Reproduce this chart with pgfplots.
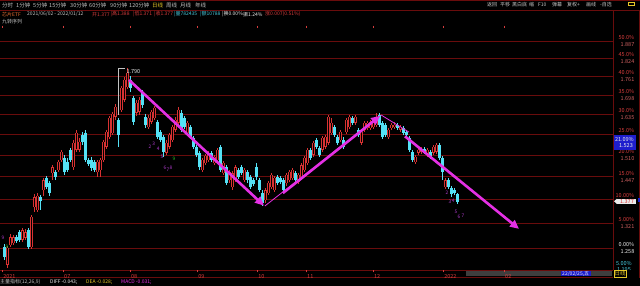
\documentclass[border=0pt]{standalone}
\usepackage{fontspec}
\setmainfont{Noto Sans CJK SC}
\usepackage{pgfplots}
\pgfplotsset{compat=1.18}
\usepackage{pgfplotstable}
\usetikzlibrary{arrows.meta}
\definecolor{upc}{RGB}{215,50,50}
\definecolor{dnc}{RGB}{84,225,245}
\definecolor{gridc}{RGB}{105,12,12}
\definecolor{lblr}{RGB}{215,60,60}
\definecolor{lblp}{RGB}{205,95,95}
\definecolor{mag}{RGB}{228,48,228}
\definecolor{tdp}{RGB}{175,60,205}
\definecolor{tdg}{RGB}{40,200,40}
\definecolor{txtg}{RGB}{195,195,195}
\definecolor{wt}{RGB}{235,235,235}
\definecolor{yel}{RGB}{230,200,40}
\definecolor{ora}{RGB}{230,110,50}
\definecolor{boxb}{RGB}{30,30,205}
\definecolor{barg}{RGB}{62,62,62}
\definecolor{cyt}{RGB}{70,200,220}

\pgfplotstableread{
i o h l c
0 1.260 1.268 1.229 1.236
1 1.217 1.263 1.210 1.258
2 1.265 1.293 1.260 1.285
3 1.270 1.290 1.265 1.285
4 1.285 1.290 1.270 1.275
5 1.298 1.303 1.273 1.278
6 1.278 1.308 1.273 1.303
7 1.283 1.306 1.278 1.298
8 1.303 1.308 1.256 1.260
9 1.260 1.342 1.256 1.337
10 1.363 1.398 1.350 1.390
11 1.355 1.401 1.350 1.393
12 1.390 1.396 1.355 1.379
13 1.409 1.443 1.393 1.437
14 1.443 1.449 1.412 1.417
15 1.429 1.434 1.393 1.401
16 1.457 1.480 1.437 1.474
17 1.460 1.466 1.437 1.446
18 1.466 1.495 1.460 1.489
19 1.495 1.525 1.489 1.519
20 1.501 1.510 1.452 1.460
21 1.489 1.501 1.460 1.466
22 1.525 1.531 1.489 1.495
23 1.474 1.555 1.466 1.546
24 1.525 1.586 1.519 1.576
25 1.525 1.561 1.519 1.549
26 1.570 1.579 1.540 1.549
27 1.576 1.586 1.489 1.495
28 1.495 1.501 1.477 1.483
29 1.495 1.504 1.463 1.472
30 1.489 1.495 1.460 1.466
31 1.460 1.495 1.446 1.489
32 1.466 1.501 1.446 1.495
33 1.495 1.555 1.489 1.549
34 1.534 1.586 1.528 1.579
35 1.564 1.630 1.558 1.623
36 1.576 1.643 1.570 1.636
37 1.627 1.669 1.617 1.659
38 1.617 1.623 1.534 1.570
39 1.649 1.729 1.643 1.722
40 1.682 1.759 1.675 1.749
41 1.725 1.790 1.718 1.773
42 1.749 1.763 1.708 1.722
43 1.688 1.695 1.601 1.611
44 1.640 1.682 1.630 1.672
45 1.643 1.692 1.633 1.682
46 1.705 1.715 1.656 1.665
47 1.627 1.636 1.592 1.601
48 1.595 1.633 1.589 1.623
49 1.611 1.649 1.604 1.643
50 1.623 1.662 1.617 1.656
51 1.611 1.617 1.558 1.564
52 1.579 1.586 1.549 1.555
53 1.564 1.570 1.504 1.519
54 1.516 1.555 1.510 1.546
55 1.534 1.576 1.528 1.570
56 1.555 1.601 1.549 1.595
57 1.586 1.627 1.579 1.617
58 1.608 1.659 1.601 1.649
59 1.640 1.649 1.579 1.586
60 1.623 1.630 1.589 1.595
61 1.576 1.614 1.570 1.608
62 1.595 1.601 1.558 1.564
63 1.561 1.567 1.528 1.534
64 1.534 1.540 1.504 1.510
65 1.516 1.522 1.466 1.474
66 1.466 1.501 1.460 1.495
67 1.486 1.513 1.480 1.507
68 1.495 1.522 1.489 1.516
69 1.516 1.522 1.489 1.495
70 1.486 1.510 1.480 1.504
71 1.495 1.531 1.489 1.525
72 1.534 1.540 1.460 1.466
73 1.457 1.492 1.452 1.486
74 1.474 1.480 1.423 1.429
75 1.437 1.466 1.429 1.460
76 1.417 1.463 1.409 1.457
77 1.437 1.480 1.432 1.474
78 1.466 1.472 1.440 1.446
79 1.474 1.480 1.452 1.457
80 1.437 1.472 1.432 1.466
81 1.460 1.466 1.429 1.437
82 1.446 1.452 1.412 1.417
83 1.437 1.443 1.420 1.426
84 1.474 1.486 1.437 1.446
85 1.437 1.443 1.404 1.409
86 1.401 1.409 1.366 1.374
87 1.382 1.415 1.374 1.409
88 1.401 1.434 1.396 1.429
89 1.417 1.457 1.412 1.452
90 1.409 1.449 1.404 1.443
91 1.446 1.452 1.423 1.429
92 1.443 1.449 1.426 1.432
93 1.437 1.443 1.404 1.409
94 1.429 1.457 1.420 1.452
95 1.437 1.466 1.432 1.460
96 1.443 1.472 1.437 1.466
97 1.457 1.463 1.432 1.437
98 1.432 1.457 1.426 1.452
99 1.446 1.486 1.440 1.480
100 1.466 1.507 1.460 1.501
101 1.486 1.531 1.480 1.525
102 1.525 1.531 1.495 1.501
103 1.510 1.552 1.504 1.546
104 1.555 1.561 1.528 1.534
105 1.531 1.537 1.504 1.510
106 1.525 1.567 1.519 1.561
107 1.534 1.570 1.528 1.564
108 1.546 1.633 1.540 1.627
109 1.576 1.623 1.570 1.608
110 1.595 1.601 1.564 1.570
111 1.564 1.570 1.540 1.546
112 1.555 1.586 1.549 1.579
113 1.555 1.564 1.528 1.534
114 1.579 1.623 1.573 1.617
115 1.595 1.633 1.589 1.627
116 1.623 1.630 1.601 1.608
117 1.608 1.633 1.601 1.627
118 1.586 1.592 1.564 1.570
119 1.546 1.586 1.540 1.579
120 1.586 1.614 1.579 1.608
121 1.592 1.614 1.586 1.608
122 1.592 1.617 1.586 1.611
123 1.595 1.623 1.589 1.617
124 1.601 1.640 1.595 1.627
125 1.633 1.640 1.595 1.601
126 1.608 1.614 1.558 1.564
127 1.601 1.608 1.564 1.570
128 1.564 1.592 1.558 1.586
129 1.592 1.608 1.586 1.601
130 1.595 1.611 1.589 1.601
131 1.601 1.608 1.586 1.592
132 1.586 1.601 1.579 1.595
133 1.592 1.598 1.570 1.576
134 1.579 1.586 1.564 1.570
135 1.561 1.567 1.519 1.525
136 1.519 1.525 1.489 1.495
137 1.489 1.510 1.483 1.504
138 1.516 1.531 1.510 1.525
139 1.519 1.534 1.513 1.528
140 1.528 1.534 1.513 1.519
141 1.510 1.531 1.504 1.525
142 1.519 1.525 1.498 1.504
143 1.516 1.540 1.510 1.534
144 1.519 1.546 1.513 1.540
145 1.540 1.546 1.495 1.501
146 1.501 1.507 1.437 1.460
147 1.417 1.443 1.412 1.437
148 1.437 1.443 1.412 1.417
149 1.415 1.420 1.390 1.398
150 1.409 1.415 1.396 1.401
151 1.398 1.402 1.371 1.377
}\kdata

\newcommand{\sm}{\fontsize{5.5}{7}\selectfont}
\newcommand{\xs}{\fontsize{5}{6}\selectfont}
\newcommand{\td}{\fontsize{4.8}{5}\selectfont}

\begin{document}
\begin{tikzpicture}[x=1pt,y=1pt]
\useasboundingbox (0,0) rectangle (640,286);
\fill[black] (0,0) rectangle (640,286);
% frame lines
\draw[gridc,line width=0.6pt] (0,285.7)--(640,285.7);
\draw[gridc,line width=0.6pt] (0,276)--(640,276);
\draw[gridc,line width=0.6pt] (613,276)--(613,8);
\draw[gridc,line width=0.6pt] (639,276)--(639,8);
\draw[gridc,line width=0.6pt] (0,9)--(613,9);
\draw[gridc,line width=0.6pt] (0,16)--(613,16);
\fill[barg] (465.7,9.6) rectangle (611.7,15.4);
% tab row
\begin{scope}[every node/.style={anchor=west,inner sep=0pt,font=\sm,text=txtg}]
\node at (2,281) {分时};
\node at (16,281) {1分钟};
\node at (33,281) {5分钟};
\node at (49,281) {15分钟};
\node at (70,281) {30分钟};
\node at (89,281) {60分钟};
\node at (110,281) {90分钟};
\node at (129,281) {120分钟};
\node[text=yel] at (152,281) {日线};
\node at (166,281) {周线};
\node at (180,281) {月线};
\node at (195,281) {年线};
\end{scope}
\begin{scope}[every node/.style={anchor=west,inner sep=0pt,font=\xs,text=txtg}]
\node at (487,281) {返回};
\node at (500,281) {平移};
\node at (512,281) {黑白底};
\node at (529,281) {缩};
\node at (538,281) {F10};
\node at (552,281) {弹幕};
\node at (567,281) {复权+};
\node at (586,281) {画线};
\node at (600,281) {-自选};
% info row
\node[text=ora] at (2,271.7) {芯片ETF};
\node at (27,271.7) {2021/06/02 - 2022/01/12};
\node[text=lblr] at (92,271.7) {开1.377};
\node[text=lblr] at (110.5,271.7) {|高1.388};
\node[text=lblr] at (133,271.7) {|低1.371};
\node[text=lblr] at (154,271.7) {|收1.377};
\node[text=cyt] at (174,271.7) {|量782435};
\node[text=cyt] at (200,271.7) {|额10788};
\node[text=wt] at (222,271.7) {|换0.00\%};
\node[text=wt] at (243,271.7) {振1.24\%};
\node[text=lblr] at (265,271.7) {涨0.007(0.51\%)};
\node at (2,264) {九转序列};
% bottom row
\node at (0,3.8) {主量指标(12,26,9)};
\node[text=wt] at (50,3.8) {DIFF -0.043;};
\node[text=yel] at (86,3.8) {DEA -0.028;};
\node[text=mag] at (121,3.8) {MACD -0.031;};
\end{scope}
\fill[yel] (628,280) rectangle (635,284);
\fill[black] (629,281) rectangle (634,283);

\begin{axis}[
  at={(0pt,16pt)}, anchor=south west, scale only axis,
  width=613pt, height=242pt,
  xmin=-1.5, xmax=202.833,
  ymode=log, ymin=1.2049, ymax=1.93654,
  clip=false,
  axis line style={draw=none},
  ytick={1.258,1.3209,1.3838,1.4467,1.5096,1.5725,1.6354,1.6983,1.7612,1.8241,1.887},
  yticklabels={
   {\textcolor{wt}{0.00\%}\\\textcolor{wt}{1.258}},
   {5.00\%\\\textcolor{lblp}{1.321}},
   {10.00\%\\\mbox{}},
   {15.0\%\\\textcolor{lblp}{1.447}},
   {20.0\%\\\textcolor{lblp}{1.510}},
   {25.0\%\\\mbox{}},
   {30.0\%\\\textcolor{lblp}{1.635}},
   {35.0\%\\\textcolor{lblp}{1.698}},
   {40.0\%\\\textcolor{lblp}{1.761}},
   {45.0\%\\\textcolor{lblp}{1.824}},
   {50.0\%\\\textcolor{lblp}{1.887}}},
  yticklabel pos=right,
  yticklabel style={anchor=east, align=right, xshift=19pt, inner sep=0pt, text=lblr, font=\sm},
  ytick style={draw=none},
  ymajorgrids, grid style={gridc, line width=0.6pt},
  xtick={-0.8,19.5,41.8,64.2,84.2,100.5,122.8,146.2,166.5},
  xticklabels={2021,07,08,09,10,11,12,2022,02},
  xticklabel style={anchor=west, inner sep=0pt, xshift=1pt, yshift=-3.6pt, text=lblr, font=\sm},
  tick align=outside, major tick length=2.5pt,
  xtick style={draw=lblr, line width=0.5pt},
]
% up candles: wicks
\addplot[draw=none, mark=none, forget plot,
  restrict expr to domain={\thisrow{c}-\thisrow{o}}{0:10},
  error bars/.cd, y dir=both, y explicit, error mark=none,
  error bar style={draw=upc, line width=0.7pt}]
  table[x=i, y expr={(\thisrow{h}+\thisrow{l})/2},
        y error plus expr={(\thisrow{h}-\thisrow{l})/2},
        y error minus expr={(\thisrow{h}-\thisrow{l})/2}] {\kdata};
% up bodies (hollow: red bar, black core)
\addplot[draw=none, mark=none, forget plot,
  restrict expr to domain={\thisrow{c}-\thisrow{o}}{0:10},
  error bars/.cd, y dir=both, y explicit, error mark=none,
  error bar style={draw=upc, line width=2.3pt}]
  table[x=i, y expr={(\thisrow{o}+\thisrow{c})/2},
        y error plus expr={(\thisrow{c}-\thisrow{o})/2},
        y error minus expr={(\thisrow{c}-\thisrow{o})/2}] {\kdata};
\addplot[draw=none, mark=none, forget plot,
  restrict expr to domain={\thisrow{c}-\thisrow{o}}{0.004:10},
  error bars/.cd, y dir=both, y explicit, error mark=none,
  error bar style={draw=black, line width=0.8pt}]
  table[x=i, y expr={(\thisrow{o}+\thisrow{c})/2},
        y error plus expr={(\thisrow{c}-\thisrow{o})/2-0.0012},
        y error minus expr={(\thisrow{c}-\thisrow{o})/2-0.0012}] {\kdata};
% down candles: wicks
\addplot[draw=none, mark=none, forget plot,
  restrict expr to domain={\thisrow{o}-\thisrow{c}}{0.0001:10},
  error bars/.cd, y dir=both, y explicit, error mark=none,
  error bar style={draw=dnc, line width=0.7pt}]
  table[x=i, y expr={(\thisrow{h}+\thisrow{l})/2},
        y error plus expr={(\thisrow{h}-\thisrow{l})/2},
        y error minus expr={(\thisrow{h}-\thisrow{l})/2}] {\kdata};
% down bodies
\addplot[draw=none, mark=none, forget plot,
  restrict expr to domain={\thisrow{o}-\thisrow{c}}{0.0001:10},
  error bars/.cd, y dir=both, y explicit, error mark=none,
  error bar style={draw=dnc, line width=2.1pt}]
  table[x=i, y expr={(\thisrow{o}+\thisrow{c})/2},
        y error plus expr={(\thisrow{o}-\thisrow{c})/2},
        y error minus expr={(\thisrow{o}-\thisrow{c})/2}] {\kdata};

% max marker
\addplot[txtg, line width=0.5pt] coordinates {(37.8,1.633) (37.8,1.790) (40.2,1.790)};
\node[anchor=west, inner sep=0pt, font=\sm, text=wt] at (axis cs:40.6,1.778) {1.790};

% drawn arrows
\addplot[mag, line width=2.6pt, -{Triangle[length=9pt,width=8pt]}] coordinates {(41.5,1.749) (86.5,1.367)};
\addplot[mag, line width=0.8pt] coordinates {(86.8,1.366) (125.2,1.630)};
\addplot[mag, line width=2.6pt, -{Triangle[length=9pt,width=8pt]}] coordinates {(92.8,1.401) (125.2,1.630)};
\addplot[mag, line width=0.8pt] coordinates {(125.5,1.633) (134.8,1.579)};
\addplot[mag, line width=2.6pt, -{Triangle[length=9pt,width=8pt]}] coordinates {(133.5,1.566) (171.5,1.306)};

% nine-turn sequence numbers
\begin{scope}[every node/.style={inner sep=0pt, font=\td, text=tdp}]
\node at (axis cs:-0.5,1.283) {9};
\node[text=tdg] at (axis cs:0.8,1.260) {9};
\node at (axis cs:48.5,1.534) {2};
\node at (axis cs:49.7,1.543) {3};
\node at (axis cs:51.2,1.528) {4};
\node at (axis cs:52.5,1.504) {5};
\node at (axis cs:53.5,1.472) {6};
\node at (axis cs:54.5,1.466) {7};
\node at (axis cs:55.5,1.472) {8};
\node[text=tdg] at (axis cs:56.5,1.498) {9};
\node at (axis cs:147.5,1.401) {2};
\node at (axis cs:148.5,1.377) {3};
\node at (axis cs:149.6,1.379) {4};
\node at (axis cs:150.5,1.350) {5};
\node at (axis cs:151.5,1.337) {6};
\node at (axis cs:152.8,1.339) {7};
\end{scope}
\end{axis}

% right-side overlays
\fill[boxb] (614,136.3) rectangle (636,150.7);
\node[anchor=east, inner sep=0pt, font=\sm, text=wt] at (634,146.6) {21.09\%};
\node[anchor=east, inner sep=0pt, font=\sm, text=wt] at (633,140.2) {1.523};
\fill[wt] (617,82) rectangle (636,87.4);
\fill[wt] (614,84.7) -- (617,87.4) -- (617,82) -- cycle;
\node[anchor=east, inner sep=0pt, font=\sm, text=upc] at (634,84.7) {1.377};
\fill[boxb] (637.8,83.5) rectangle (640,88);
\node[anchor=east, inner sep=0pt, font=\sm, text=cyt] at (632,22.8) {5.00\%};
\node[anchor=east, inner sep=0pt, font=\sm, text=cyt] at (631,16.5) {1.195};
\fill[black] (613.4,8) rectangle (638.6,15.6);
\draw[yel, line width=0.4pt] (614,9) rectangle (626.5,15.5);
\node[inner sep=0pt, font=\sm, text=yel] at (620.2,12.2) {日线};
\fill[boxb] (560.7,9.6) rectangle (590.7,15.4);
\node[inner sep=0pt, font=\fontsize{5}{6}\selectfont, text=wt] at (575.7,12.4) {22/02/25,五};
\end{tikzpicture}
\end{document}
